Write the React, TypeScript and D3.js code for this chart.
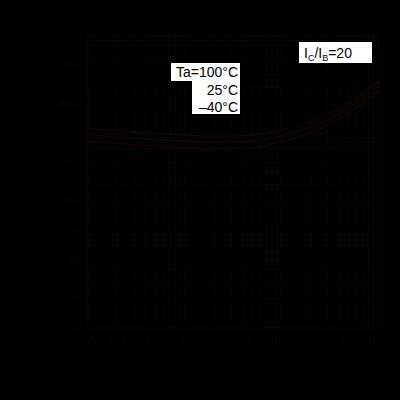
import React, { useEffect, useRef } from 'react';
import { select, scaleLog, line, curveMonotoneX } from 'd3';

// collector current (A) and V_CE(sat) (V)
const collectorCurrent = [-1e-4, -2e-4, -5e-4, -1e-3, -2e-3, -5e-3, -1e-2, -2e-2, -5e-2, -1e-1];
const vceSat100 = [-0.1125, -0.106, -0.1, -0.096, -0.0937, -0.096, -0.108, -0.1316, -0.203, -0.339];
const vceSat25 = [-0.097, -0.0916, -0.0863, -0.0833, -0.0814, -0.0833, -0.0938, -0.116, -0.182, -0.306];
const vceSatMinus40 = [-0.0833, -0.0785, -0.074, -0.0715, -0.0698, -0.0715, -0.0814, -0.1007, -0.162, -0.272];

const xTickValues = [-1e-4, -2e-4, -5e-4, -1e-3, -2e-3, -5e-3, -1e-2, -2e-2, -5e-2, -1e-1];
const xTickLabels = ['-100μ', '-200μ', '-500μ', '-1m', '-2m', '-5m', '-10m', '-20m', '-50m', '-100m'];
const yTickValues = [-1, -0.5, -0.2, -0.1, -0.05, -0.02, -0.01, -0.005, -0.002, -0.001];
const yTickLabels = ['-1', '-500m', '-200m', '-100m', '-50m', '-20m', '-10m', '-5m', '-2m', '-1m'];
const legendLabels = ['Ta=100°C', '25°C', '–40°C'];

const W = 400;
const H = 400;

export default function App() {
  const svgRef = useRef<SVGSVGElement>(null);

  useEffect(() => {
    if (!svgRef.current) return;
    const svg = select(svgRef.current);
    svg.selectAll('*').remove();

    const plot = { left: 88, right: 378, top: 36, bottom: 328 };
    const x = scaleLog().domain([-1e-4, -1e-1]).range([plot.left, plot.right]);
    const y = scaleLog().domain([-1e-3, -1]).range([plot.bottom, plot.top]);

    const font = "'Liberation Sans', Arial, sans-serif";
    const colors = { bg: '#000', grid: '#070707', frame: '#0b0b0b', text: '#060606', curve: '#180606' };

    svg.append('rect').attr('width', W).attr('height', H).attr('fill', colors.bg);

    // minor grid lines (1..9 per decade)
    const grid = svg.append('g');
    const xGrid: number[] = [];
    [1e-4, 1e-3, 1e-2].forEach(d => { for (let k = 1; k <= 9; k++) xGrid.push(-d * k); });
    const yGrid: number[] = [];
    [1e-3, 1e-2, 1e-1].forEach(d => { for (let k = 1; k <= 9; k++) yGrid.push(-d * k); });

    grid.selectAll('.vx').data(xGrid).enter().append('line')
      .attr('x1', d => x(d)).attr('x2', d => x(d))
      .attr('y1', plot.top).attr('y2', plot.bottom)
      .attr('stroke', colors.grid).attr('stroke-width', 1);
    grid.selectAll('.hy').data(yGrid).enter().append('line')
      .attr('y1', d => y(d)).attr('y2', d => y(d))
      .attr('x1', plot.left).attr('x2', plot.right)
      .attr('stroke', colors.grid).attr('stroke-width', 1);

    svg.append('rect')
      .attr('x', plot.left).attr('y', plot.top)
      .attr('width', plot.right - plot.left).attr('height', plot.bottom - plot.top)
      .attr('fill', 'none').attr('stroke', colors.frame);

    // tick labels
    svg.selectAll('.ylab').data(yTickValues).enter().append('text')
      .attr('x', plot.left - 4).attr('y', d => y(d)).attr('dy', '0.35em')
      .attr('text-anchor', 'end').attr('font-family', font).attr('font-size', 10)
      .attr('fill', colors.text).text((d, i) => yTickLabels[i]);
    svg.selectAll('.xlab').data(xTickValues).enter().append('text')
      .attr('x', d => x(d)).attr('y', plot.bottom + 17)
      .attr('text-anchor', 'middle').attr('font-family', font).attr('font-size', 10)
      .attr('fill', colors.text).text((d, i) => xTickLabels[i]);

    // curves
    const path = line<number>()
      .x((d, i) => x(collectorCurrent[i]))
      .y(d => y(d))
      .curve(curveMonotoneX);
    [vceSat100, vceSat25, vceSatMinus40].forEach(series => {
      svg.append('path').datum(series).attr('d', path)
        .attr('fill', 'none').attr('stroke', colors.curve).attr('stroke-width', 1.2);
    });

    // legend boxes
    svg.append('rect').attr('x', 171).attr('y', 63).attr('width', 69).attr('height', 18).attr('fill', '#fff');
    svg.append('rect').attr('x', 192).attr('y', 80).attr('width', 48).attr('height', 34).attr('fill', '#fff');
    legendLabels.forEach((label, i) => {
      svg.append('text')
        .attr('x', 238).attr('y', 77 + i * 17.5)
        .attr('text-anchor', 'end').attr('font-family', font).attr('font-size', 14)
        .attr('fill', '#000').text(label);
    });

    svg.append('rect').attr('x', 299).attr('y', 42).attr('width', 73).attr('height', 21).attr('fill', '#fff');
    const cond = svg.append('text')
      .attr('x', 304).attr('y', 58).attr('font-family', font).attr('font-size', 14).attr('fill', '#000');
    cond.append('tspan').text('I');
    cond.append('tspan').attr('font-size', 9).attr('dy', 3).text('C');
    cond.append('tspan').attr('dy', -3).text('/I');
    cond.append('tspan').attr('font-size', 9).attr('dy', 3).text('B');
    cond.append('tspan').attr('dy', -3).text('=20');
  }, []);

  return (
    <svg
      ref={svgRef}
      width={W}
      height={H}
      viewBox={`0 0 ${W} ${H}`}
      style={{ position: 'fixed', left: 0, top: 0, display: 'block' }}
    />
  );
}
